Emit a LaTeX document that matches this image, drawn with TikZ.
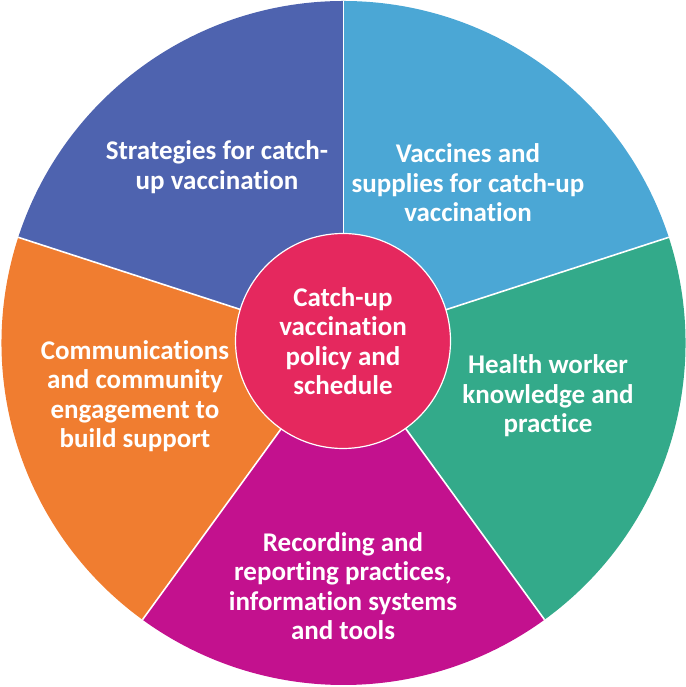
\documentclass[tikz,border=0pt]{standalone}
\usepackage{fontspec}
\setmainfont[Ligatures=NoCommon]{Carlito}
\definecolor{cblue}{HTML}{4E63AF}
\definecolor{clight}{HTML}{4BA7D5}
\definecolor{cgreen}{HTML}{33AA8A}
\definecolor{cmag}{HTML}{C3118E}
\definecolor{corange}{HTML}{F07D30}
\definecolor{cpink}{HTML}{E5285E}
\begin{document}
\begin{tikzpicture}[x=1pt,y=1pt,
  lab/.style={text=white,font=\fontsize{27}{29.5}\selectfont\bfseries,align=center,inner sep=0pt},
  sep/.style={draw=white,line width=1.6pt}]
\useasboundingbox (0,0) rectangle (685,687);
\coordinate (c) at (343.5,344);
\def\R{342}
\fill[cblue]   (c) -- ++(90:\R)  arc[start angle=90,end angle=162,radius=\R] -- cycle;
\fill[clight]  (c) -- ++(18:\R)  arc[start angle=18,end angle=90,radius=\R] -- cycle;
\fill[cgreen]  (c) -- ++(-54:\R) arc[start angle=-54,end angle=18,radius=\R] -- cycle;
\fill[cmag]    (c) -- ++(234:\R) arc[start angle=234,end angle=306,radius=\R] -- cycle;
\fill[corange] (c) -- ++(162:\R) arc[start angle=162,end angle=234,radius=\R] -- cycle;
\foreach \a in {90,162,234,306,18} \draw[sep] (c) -- ++(\a:\R);
\node[circle,fill=cpink,draw=white,line width=1.2pt,minimum size=215pt,inner sep=0pt] (hub) at (343,346) {};
\node[lab] (centre) at (hub) {Catch-up\\vaccination\\policy and\\schedule};
\node[lab] (strat) at (217,520) {Strategies for catch-\\up vaccination};
\node[lab] (vacc) at (468,504) {Vaccines and\\supplies for catch-up\\vaccination};
\node[lab] (health) at (548,291) {Health worker\\knowledge and\\practice};
\node[lab] (rec) at (343,101) {Recording and\\reporting practices,\\information systems\\and tools};
\node[lab] (comm) at (135,291) {Communications\\and community\\engagement to\\build support};
\end{tikzpicture}
\end{document}
